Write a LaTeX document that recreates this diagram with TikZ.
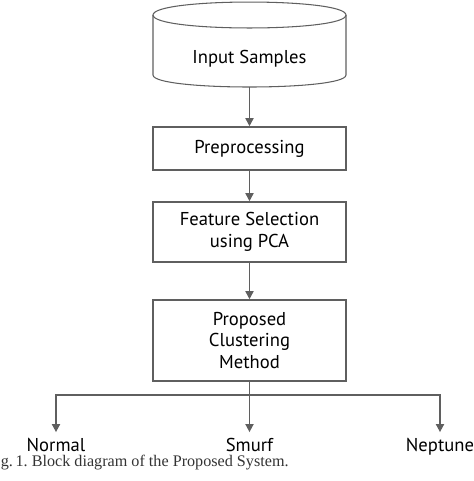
\documentclass[tikz,border=0pt]{standalone}
\usepackage{fontspec}
\setmainfont{PT Sans}
\newfontfamily\capfont{Liberation Serif}
\usepackage{tikz}
\usetikzlibrary{arrows.meta}

\definecolor{linegray}{HTML}{5F5F5F}

\tikzset{
    block/.style={draw=linegray, line width=0.9pt, fill=white, align=center,
        minimum width=3.86cm, font=\fontsize{10.6}{12.3}\selectfont},
    flow/.style={draw=linegray, line width=0.9pt,
        -{Triangle[width=4.6pt, length=4.6pt]}},
    link/.style={draw=linegray, line width=0.9pt},
    cyl/.style={draw=linegray, line width=0.6pt},
    outcome/.style={anchor=base, inner sep=0.5pt, font=\fontsize{10.6}{12.3}\selectfont}
}

\begin{document}
\begin{tikzpicture}[x=0.02cm, y=-0.02cm]

    \useasboundingbox (0,0) rectangle (474,481);

    % database of samples
    \draw[cyl] (153,15) -- (153,75) .. controls (153,91) and (346,91) .. (346,75) -- (346,15);
    \draw[cyl] (153,15) .. controls (153,-2.3) and (346,-2.3) .. (346,15)
        .. controls (346,32.3) and (153,32.3) .. cycle;
    \node[font=\fontsize{10.6}{12.3}\selectfont] (input) at (249.5,59) {Input Samples};
    \coordinate (inbot) at (249.5,87);

    \node[block, minimum height=0.86cm] (prep) at (249.5,148.5) {Preprocessing};
    \node[block, minimum height=1.2cm] (feat) at (249.5,232) {Feature Selection\\using PCA};
    \node[block, minimum height=1.62cm] (clus) at (249.5,340.5) {Proposed\\Clustering\\Method};

    \coordinate (split) at (249.5,395);

    \node[outcome] (normal) at (56,451) {Normal};
    \node[outcome] (smurf) at (249.5,451) {Smurf};
    \node[outcome] (neptune) at (440,451) {Neptune};

    \draw[flow] (inbot) -- (prep);
    \draw[flow] (prep) -- (feat);
    \draw[flow] (feat) -- (clus);
    \draw[link] (clus) -- (split);
    \draw[flow, shorten >=2.5pt] (split) -| (normal.north);
    \draw[flow, shorten >=2.5pt] (split) -- (smurf.north);
    \draw[flow, shorten >=2.5pt] (split) -| (neptune.north);

    \node[anchor=base west, inner sep=0, text=black!80, font=\capfont\fontsize{9.2}{10}\selectfont]
        (caption) at (0.5,466.5) {g.\,1.\ Block diagram of the Proposed System.};

\end{tikzpicture}
\end{document}
